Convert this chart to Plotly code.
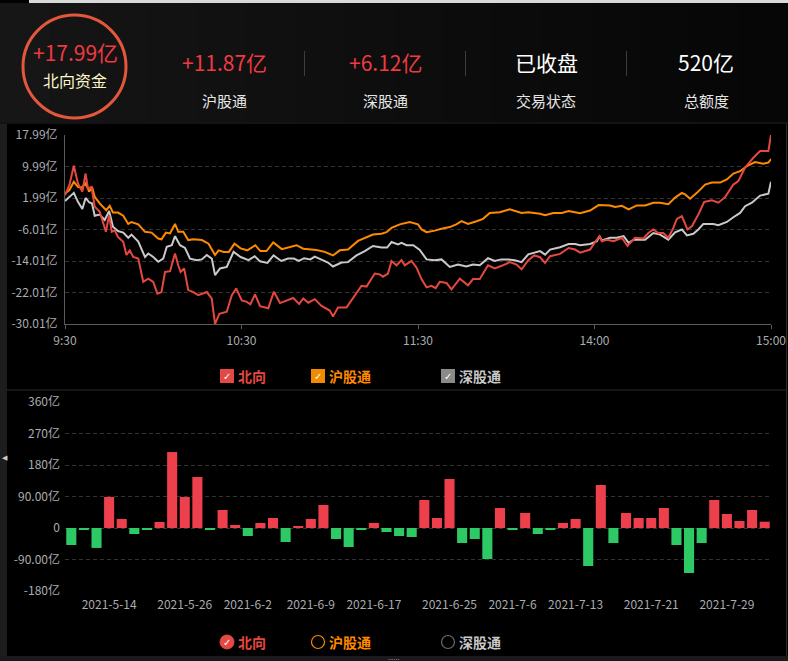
import plotly.graph_objects as go

W, H = 788, 661
FONT = "Noto Sans CJK SC"

# ---------------- intraday data (minutes of trading since 9:30, value in 亿) ----------------
north_t = [0, 1.5, 3, 4.4, 5.9, 7, 7.8, 9, 10.1, 11.8, 13.9, 15, 15.9, 16.9, 18, 19.8, 20.9, 22, 23.2, 24.9,
           26.6, 28.3, 30, 31.4, 32.8, 34, 35.7, 37.4, 38.5, 39.3, 40.5, 41.9, 43.6, 45.3, 48.2, 49.9, 51, 52.5,
           55, 56.7, 58.2, 60.1, 61.8, 63, 64.6, 66.3, 69.1, 71, 73.1, 74.8, 77.6, 79.6, 81, 82.7, 84.9, 87.2,
           90, 91.1, 92.8, 95.7, 98, 100.8, 102.5, 105.3, 107, 108.1, 109.8, 111, 112.7, 114.4, 115.5, 117.8,
           119.5, 121.2, 122.9, 124.6, 126, 127.4, 129.7, 131.4, 134.2, 137, 138.7, 141, 143.8, 146.1, 148.9,
           151.2, 153.5, 155.2, 157.5, 159.5, 161.5, 163.2, 164.9, 168.3, 171.2, 173.4, 175.1, 176.8, 178.5,
           180, 181.7, 182.5, 184.2, 186.5, 189.3, 191.2, 193.8, 196.6, 198.3, 200, 201.7, 203.4, 205.1, 206.8,
           208, 209.7, 210.5, 211.6, 213.1, 215.3, 217.3, 219.9, 222.1, 224.4, 227.2, 228.9, 231.2, 234, 236.3,
           239.1, 240]
north_v = [2.7, 5.3, 10.2, 5.7, 3.6, 8.2, 4.4, 4.8, -0.2, -1.5, -6.6, -2.4, -6.6, -6.2, -7.9, -9.1, -12.5,
           -11.3, -13.0, -13.4, -19.3, -18.5, -19.3, -22.3, -21.9, -16.8, -16.6, -12.1, -15.1, -16.8, -15.9,
           -21.4, -21.9, -22.7, -21.9, -23.6, -30.01, -27.4, -26.9, -22.7, -21.0, -24.0, -24.4, -25.0, -22.5,
           -25.5, -26.0, -21.8, -24.7, -24.2, -23.4, -24.9, -23.5, -24.6, -23.7, -25.4, -26.6, -28.1, -25.8,
           -25.8, -23.3, -20.3, -20.5, -17.2, -17.4, -18.0, -17.2, -14.0, -15.1, -13.8, -15.1, -14.0, -15.7,
           -18.6, -20.7, -20.3, -20.9, -19.3, -19.6, -21.2, -18.5, -20.2, -18.6, -18.6, -15.1, -15.9, -15.1,
           -14.3, -14.9, -16.1, -13.8, -12.6, -13.05, -14.5, -12.8, -12.2, -10.7, -11.1, -11.9, -11.4, -11.1,
           -9.4, -7.7, -9.0, -8.6, -9.0, -8.1, -10.2, -8.1, -8.3, -6.9, -6.0, -6.9, -6.9, -8.1, -5.6, -3.3,
           -2.6, -3.9, -6.0, -5.2, -2.2, 1.0, 1.4, 0.8, 2.2, 5.4, 6.3, 9.7, 12.2, 13.9, 13.9, 17.99]

sh_t = [0, 1.5, 3, 4.4, 5.6, 7, 8.2, 9.2, 10.1, 11.8, 14, 15.2, 16.3, 18, 19.8, 21.5, 22.6, 24.9, 27.2, 29.4,
        31.7, 32.8, 34.3, 35.7, 37.4, 38.5, 40.2, 41.9, 43.6, 46.5, 48.8, 51, 52.2, 54, 55.7, 57.6, 59.7, 62,
        64.7, 66.4, 68.5, 70.8, 73.7, 76.4, 78.7, 81, 83.2, 85.5, 88.3, 91.1, 93.4, 96.2, 99.6, 102.5, 104.7,
        107.6, 109.3, 111, 113.8, 117.2, 120, 121.2, 122.9, 125.7, 128, 130.8, 133, 134.8, 137, 139.9, 142.1,
        144.4, 147.8, 151.2, 153.5, 155.2, 157.5, 161.5, 163.2, 166, 168.9, 171.2, 175.1, 178.5, 181.4, 185.3,
        187, 189.3, 191.6, 194.4, 197.2, 200, 202.3, 205.1, 207.4, 209.7, 210.8, 212.5, 214.8, 217.6, 219.9,
        222.7, 225, 227.2, 229.5, 231.8, 234.6, 237.4, 239.1, 240]
sh_v = [3.15, 4.0, 6.1, 4.8, 4.6, 5.7, 3.6, 4.8, 2.3, 0.6, -1.1, 0.0, -1.7, -1.7, -2.5, -4.6, -4.1, -4.7, -6.6,
        -6.8, -8.3, -8.5, -6.8, -7.0, -4.6, -6.6, -6.6, -8.7, -8.5, -8.7, -9.6, -12.5, -11.3, -11.7, -11.7,
        -9.6, -10.8, -11.3, -10.0, -11.5, -11.5, -9.3, -11.0, -10.4, -10.0, -10.9, -11.1, -11.2, -11.7, -12.6,
        -11.3, -11.1, -8.9, -8.1, -7.3, -7.1, -6.7, -5.6, -4.7, -4.1, -4.7, -6.0, -6.7, -6.3, -5.8, -5.4, -4.7,
        -3.9, -4.6, -3.9, -3.3, -1.8, -1.6, -0.9, -1.4, -1.8, -1.6, -2.0, -2.4, -1.8, -1.8, -1.3, -1.9, -1.2,
        0.2, 0.1, -0.3, 0.0, -0.9, 0.1, 0.1, 0.8, 0.8, 0.4, 2.1, 3.3, 2.9, 1.8, 3.3, 5.4, 5.9, 5.9, 6.7, 8.2,
        8.8, 10.1, 11.1, 10.7, 11.0, 11.87]

sz_t = [0, 1.5, 3, 4.4, 5.9, 7, 8.2, 9.2, 10.1, 11.8, 13.5, 15, 16.3, 18, 19.8, 21.5, 22.6, 24.9, 27.2, 28.3,
        30, 31.7, 33.4, 34.6, 36.3, 37.4, 39.1, 40.8, 42.5, 44.8, 46.5, 48.2, 49.9, 51, 52.7, 55, 57.3, 59.7,
        62.4, 64.5, 66.3, 68.8, 70.9, 73.5, 75.8, 77.8, 79.5, 81.3, 83.4, 84.9, 87.7, 89.4, 91.1, 94, 96.2,
        99.1, 101.9, 104.7, 107.6, 109.5, 111, 113.2, 114.4, 116.1, 118.4, 120.6, 122.9, 125.7, 128, 130.8,
        133.6, 136.4, 138.7, 141, 143.8, 146.1, 148.3, 150.6, 152.9, 155.2, 157.5, 161.5, 163.2, 164.9, 168.3,
        171.2, 173.4, 175.1, 178.5, 180.8, 181.7, 182.5, 185.3, 187.6, 189.9, 191.6, 193.3, 197.2, 200, 202.3,
        205.1, 207.4, 209.7, 211.4, 213.6, 215.3, 217, 220.4, 222.1, 225, 227.2, 229.5, 231.2, 233.5, 236.3,
        239.1, 240]
sz_v = [1.2, 2.3, 3.3, 1.0, -0.8, 2.0, 0.9, 0.6, -2.5, -2.2, -3.6, -1.3, -5.3, -6.4, -6.8, -8.1, -7.3, -9.1,
        -13.0, -12.1, -13.0, -14.2, -13.4, -10.4, -10.0, -7.7, -10.0, -10.7, -13.4, -13.8, -13.6, -12.5, -13.4,
        -17.6, -15.9, -15.5, -11.7, -13.0, -13.8, -12.8, -14.1, -14.5, -12.6, -14.0, -13.4, -13.4, -14.0,
        -13.3, -13.6, -12.9, -13.8, -14.4, -15.4, -14.4, -14.3, -12.6, -11.5, -10.2, -10.6, -10.6, -9.2, -9.8,
        -9.4, -10.0, -10.0, -11.2, -13.6, -13.8, -13.6, -15.5, -14.9, -15.4, -14.9, -15.1, -13.3, -14.0,
        -13.6, -13.6, -13.8, -14.3, -12.3, -11.5, -12.4, -11.1, -10.5, -9.7, -9.7, -10.0, -9.7, -9.0, -7.7,
        -8.8, -8.1, -8.1, -7.7, -9.4, -8.6, -8.6, -6.9, -7.3, -8.6, -6.7, -6.0, -7.5, -7.1, -6.0, -4.6, -4.6,
        -4.9, -4.1, -2.9, -1.8, -0.1, 0.8, 2.6, 3.1, 6.12]

time_tickvals = [0, 60, 120, 180, 240]
time_ticktext = ["9:30", "10:30", "11:30", "14:00", "15:00"]
flow_tickvals = [17.99, 9.99, 1.99, -6.01, -14.01, -22.01, -30.01]
flow_ticktext = [f"{v:.2f}亿" for v in flow_tickvals]

# ---------------- daily net flow (亿) ----------------
dates = ["2021-5-11", "2021-5-12", "2021-5-13", "2021-5-14", "2021-5-17", "2021-5-18", "2021-5-20",
         "2021-5-21", "2021-5-25", "2021-5-26", "2021-5-27", "2021-5-28", "2021-5-31", "2021-6-1",
         "2021-6-2", "2021-6-3", "2021-6-4", "2021-6-7", "2021-6-8", "2021-6-9", "2021-6-10", "2021-6-11",
         "2021-6-15", "2021-6-16", "2021-6-17", "2021-6-18", "2021-6-21", "2021-6-22", "2021-6-23",
         "2021-6-24", "2021-6-25", "2021-6-28", "2021-6-29", "2021-6-30", "2021-7-2", "2021-7-6",
         "2021-7-7", "2021-7-8", "2021-7-9", "2021-7-12", "2021-7-13", "2021-7-14", "2021-7-15",
         "2021-7-16", "2021-7-19", "2021-7-20", "2021-7-21", "2021-7-22", "2021-7-23", "2021-7-26",
         "2021-7-27", "2021-7-28", "2021-7-29", "2021-7-30", "2021-8-2", "2021-8-3"]
daily_net = [-48.6, -5.7, -57.0, 88.6, 25.7, -17.1, -5.7, 17.1, 217.0, 88.6,
             145.7, -5.7, 51.4, 8.6, -22.9, 14.3, 28.6, -40.0, 2.9, 25.7,
             65.7, -31.4, -54.3, -5.7, 14.3, -11.4, -22.9, -25.7, 80.0, 28.6,
             140.0, -42.9, -31.4, -88.6, 57.1, -2.9, 42.9, -17.1, -2.9, 14.3,
             25.7, -108.6, 122.9, -42.9, 42.9, 28.6, 28.6, 57.1, -48.6, -128.6,
             -42.9, 80.0, 40.0, 20.0, 51.4, 17.99]
date_ticks = ["2021-5-14", "2021-5-26", "2021-6-2", "2021-6-9", "2021-6-17", "2021-6-25",
              "2021-7-6", "2021-7-13", "2021-7-21", "2021-7-29"]
bar_tickvals = [360, 270, 180, 90, 0, -90, -180]
bar_ticktext = ["360亿", "270亿", "180亿", "90.00亿", "0", "-90.00亿", "-180亿"]

# ---------------- header ----------------
header_values = ["+17.99亿", "+11.87亿", "+6.12亿", "已收盘", "520亿"]
header_labels = ["北向资金", "沪股通", "深股通", "交易状态", "总额度"]

RED = "#e5483f"
ORANGE = "#ff8a00"
GREY = "#c9c9c9"
BAR_RED = "#ee3f4d"
BAR_GREEN = "#2cc964"
TEXT_RED = "#ef3a42"
AXIS_TXT = "#a9acb0"


def px(x):
    return x / W


def py(y):
    return 1 - y / H


fig = go.Figure()
fig.add_trace(go.Scatter(x=sz_t, y=sz_v, mode="lines", line=dict(color=GREY, width=2), name="深股通",
                         xaxis="x", yaxis="y", hoverinfo="skip"))
fig.add_trace(go.Scatter(x=sh_t, y=sh_v, mode="lines", line=dict(color=ORANGE, width=2), name="沪股通",
                         xaxis="x", yaxis="y", hoverinfo="skip"))
fig.add_trace(go.Scatter(x=north_t, y=north_v, mode="lines", line=dict(color=RED, width=2), name="北向",
                         xaxis="x", yaxis="y", hoverinfo="skip"))
fig.add_trace(go.Bar(x=dates, y=daily_net, xaxis="x2", yaxis="y2", name="北向",
                     marker=dict(color=[BAR_RED if v >= 0 else BAR_GREEN for v in daily_net], line=dict(width=0))))

shapes = []
# header gradient background
n_strips = 16
for i in range(n_strips):
    c = int(22 - 16 * i / (n_strips - 1))
    shapes.append(dict(type="rect", xref="paper", yref="paper", x0=px(i * W / n_strips), x1=px((i + 1) * W / n_strips + 1),
                       y0=py(122), y1=py(3), fillcolor=f"rgb({c},{c},{c})", line=dict(width=0), layer="below"))
# top light strip
shapes.append(dict(type="rect", xref="paper", yref="paper", x0=px(29), x1=px(788), y0=py(3), y1=py(0),
                   fillcolor="#d9d9d9", line=dict(width=0), layer="below"))
# header bottom line
shapes.append(dict(type="line", xref="paper", yref="paper", x0=0, x1=1, y0=py(123), y1=py(123),
                   line=dict(color="#262626", width=1)))
# left side strip
shapes.append(dict(type="rect", xref="paper", yref="paper", x0=0, x1=px(7), y0=py(656), y1=py(124),
                   fillcolor="#1d1d1d", line=dict(width=0), layer="below"))
# right edge line
shapes.append(dict(type="line", xref="paper", yref="paper", x0=px(786.5), x1=px(786.5), y0=py(656), y1=py(124),
                   line=dict(color="#2a2a2a", width=1)))
# bottom strip
shapes.append(dict(type="rect", xref="paper", yref="paper", x0=0, x1=1, y0=0, y1=py(656),
                   fillcolor="#1a1a1a", line=dict(width=0), layer="below"))
# separator between charts
shapes.append(dict(type="line", xref="paper", yref="paper", x0=px(7), x1=px(786), y0=py(390), y1=py(390),
                   line=dict(color="#2b2b2b", width=1)))
# header circle
shapes.append(dict(type="circle", xref="paper", yref="paper", x0=px(23), x1=px(126), y0=py(118), y1=py(15),
                   line=dict(color="#e3573d", width=3)))
# header separators
for sx in [304.5, 465.5, 626.5]:
    shapes.append(dict(type="line", xref="paper", yref="paper", x0=px(sx), x1=px(sx), y0=py(76), y1=py(51),
                       line=dict(color="#3c3c3c", width=1)))

annotations = []
header_x = [75, 224, 385, 546, 706]
for i, (val, lab) in enumerate(zip(header_values, header_labels)):
    if i == 0:
        vy, ly, vcol, lcol = 52, 80, TEXT_RED, "#fdf6c8"
        lsize = 16
    else:
        vy, ly = 62, 100
        vcol = TEXT_RED if i < 3 else "#ffffff"
        lcol = "#e6e6e6"
        lsize = 15
    annotations.append(dict(text=val, x=px(header_x[i]), y=py(vy), xref="paper", yref="paper",
                            showarrow=False, xanchor="center", yanchor="middle",
                            font=dict(family=FONT, size=21, color=vcol)))
    annotations.append(dict(text=lab, x=px(header_x[i]), y=py(ly), xref="paper", yref="paper",
                            showarrow=False, xanchor="center", yanchor="middle",
                            font=dict(family=FONT, size=lsize, color=lcol)))

# legends
legend_items = [("北向", RED, "#e24a43", 227), ("沪股通", ORANGE, "#f28a00", 318), ("深股通", "#c8c8c8", "#8a8a8a", 448)]
for name, tcol, mcol, cx in legend_items:
    # top legend: checkbox squares
    shapes.append(dict(type="rect", xref="paper", yref="paper", x0=px(cx - 7), x1=px(cx + 7),
                       y0=py(383), y1=py(369), fillcolor=mcol, line=dict(width=0)))
    annotations.append(dict(text="✓", x=px(cx), y=py(376.5), xref="paper", yref="paper", showarrow=False,
                            xanchor="center", yanchor="middle", font=dict(family="DejaVu Sans", size=10, color="#ffffff")))
    annotations.append(dict(text=f"<b>{name}</b>", x=px(cx + 9), y=py(376), xref="paper", yref="paper",
                            showarrow=False, xanchor="left", yanchor="middle",
                            font=dict(family=FONT, size=14, color=tcol)))
    # bottom legend: circles
    if name == "北向":
        shapes.append(dict(type="circle", xref="paper", yref="paper", x0=px(cx - 7), x1=px(cx + 7),
                           y0=py(649), y1=py(635), fillcolor=mcol, line=dict(color=mcol, width=1)))
        annotations.append(dict(text="✓", x=px(cx), y=py(642.5), xref="paper", yref="paper", showarrow=False,
                                xanchor="center", yanchor="middle",
                                font=dict(family="DejaVu Sans", size=10, color="#ffffff")))
    else:
        shapes.append(dict(type="circle", xref="paper", yref="paper", x0=px(cx - 6.5), x1=px(cx + 6.5),
                           y0=py(648.5), y1=py(635.5), line=dict(color=mcol if name == "沪股通" else "#6a6a6a", width=1.2)))
    annotations.append(dict(text=f"<b>{name}</b>", x=px(cx + 9), y=py(642), xref="paper", yref="paper",
                            showarrow=False, xanchor="left", yanchor="middle",
                            font=dict(family=FONT, size=14, color=tcol)))

# small left arrow and bottom handle
annotations.append(dict(text="◀", x=px(0), y=py(458), xref="paper", yref="paper", showarrow=False,
                        xanchor="left", yanchor="middle", font=dict(family="DejaVu Sans", size=7, color="#cccccc")))
annotations.append(dict(text="......", x=px(394), y=py(657), xref="paper", yref="paper", showarrow=False,
                        xanchor="center", yanchor="middle", font=dict(family="DejaVu Sans", size=6, color="#dddddd")))

tickfont = dict(family=FONT, size=12, color=AXIS_TXT)
xdom = [px(65), px(771)]

fig.update_layout(
    width=W, height=H,
    margin=dict(l=0, r=0, t=0, b=0, pad=0, autoexpand=False),
    paper_bgcolor="#000000", plot_bgcolor="rgba(0,0,0,0)",
    showlegend=False, bargap=0.2,
    shapes=shapes, annotations=annotations,
    xaxis=dict(domain=xdom, anchor="y", range=[0, 240], tickmode="array", tickvals=time_tickvals,
               ticktext=time_ticktext, showgrid=False, zeroline=False, showline=True, linecolor="#5a5a5a",
               linewidth=1, ticks="outside", ticklen=4, tickcolor="#5a5a5a", tickfont=tickfont,
               ticklabelstandoff=2, fixedrange=True, automargin=False),
    yaxis=dict(domain=[py(324), py(135)], anchor="x", range=[-30.01, 17.99], tickmode="array",
               tickvals=flow_tickvals, ticktext=flow_ticktext, showgrid=True, gridcolor="#333333",
               griddash="4px,3px", gridwidth=1, zeroline=False, showline=True, linecolor="#5a5a5a",
               linewidth=1, ticks="", tickfont=tickfont, ticklabelstandoff=4, fixedrange=True,
               automargin=False),
    xaxis2=dict(domain=xdom, anchor="y2", type="category", range=[-0.5, len(dates) - 0.5],
                tickmode="array", tickvals=date_ticks, ticktext=date_ticks, showgrid=False,
                zeroline=False, showline=False, ticks="", tickfont=tickfont, ticklabelstandoff=5,
                fixedrange=True, automargin=False),
    yaxis2=dict(domain=[py(591), py(402)], anchor="x2", range=[-180, 360], tickmode="array",
                tickvals=bar_tickvals, ticktext=bar_ticktext, showgrid=True, gridcolor="#333333",
                griddash="4px,3px", gridwidth=1, zeroline=False, showline=False, ticks="",
                tickfont=tickfont, ticklabelstandoff=4, fixedrange=True, automargin=False),
)

fig.write_html("out.html")
